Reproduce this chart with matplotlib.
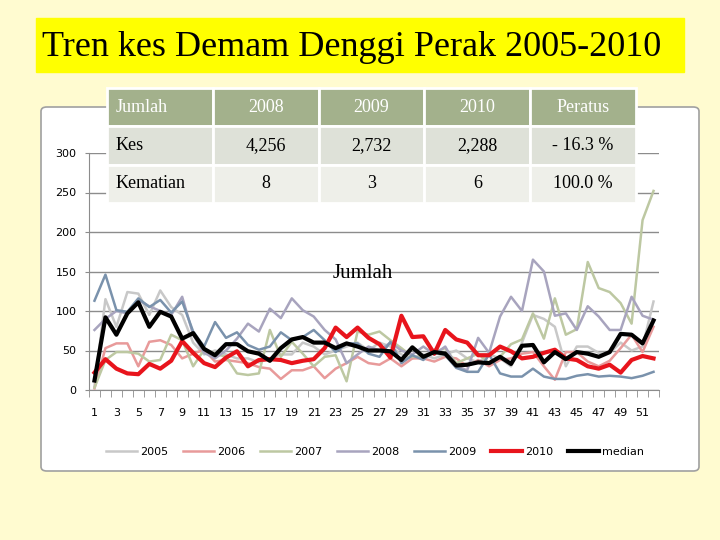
import matplotlib.pyplot as plt
from matplotlib.patches import Rectangle, FancyBboxPatch

weeks = list(range(1, 53))

y2005 = [5, 115, 80, 124, 122, 95, 126, 105, 95, 60, 45, 50, 45, 40, 40, 35, 40, 45,
         45, 60, 55, 45, 50, 55, 60, 50, 60, 55, 45, 40, 45, 40, 45, 50, 40, 35, 45,
         40, 30, 60, 95, 90, 80, 30, 55, 55, 47, 47, 60, 50, 55, 112]
y2006 = [2, 53, 59, 59, 30, 61, 63, 57, 40, 46, 51, 36, 38, 36, 34, 29, 27, 14,
         25, 25, 30, 15, 27, 34, 42, 34, 32, 40, 30, 40, 40, 36, 42, 40, 30, 38, 30,
         38, 40, 46, 48, 30, 13, 48, 48, 36, 30, 37, 53, 70, 48, 80]
y2007 = [3, 38, 48, 48, 46, 36, 38, 70, 63, 30, 51, 46, 42, 21, 19, 21, 76, 42,
         61, 46, 30, 42, 44, 11, 74, 70, 74, 63, 53, 42, 42, 48, 53, 34, 40, 46, 34,
         42, 58, 64, 97, 65, 116, 70, 77, 162, 129, 124, 110, 84, 215, 252]
y2008 = [76, 90, 100, 97, 114, 106, 100, 95, 118, 70, 47, 40, 50, 65, 84, 74, 103, 91,
         116, 101, 93, 76, 64, 34, 45, 55, 50, 60, 50, 45, 55, 45, 55, 30, 25, 66, 47,
         93, 118, 100, 165, 150, 94, 97, 76, 106, 93, 76, 76, 118, 94, 89]
y2009 = [113, 146, 101, 99, 116, 105, 114, 98, 112, 74, 55, 86, 66, 73, 57, 51, 55, 73,
         63, 67, 76, 63, 48, 59, 59, 46, 42, 61, 34, 44, 38, 51, 44, 28, 23, 23, 45,
         21, 17, 17, 27, 17, 14, 14, 18, 20, 17, 18, 17, 15, 18, 23]
y2010 = [22, 39, 27, 21, 20, 33, 27, 37, 62, 47, 34, 29, 41, 49, 30, 38, 39, 38,
         34, 37, 39, 53, 79, 67, 79, 66, 58, 41, 94, 67, 68, 46, 76, 64, 60, 44, 44,
         55, 49, 40, 42, 47, 51, 40, 38, 30, 27, 32, 22, 38, 43, 40]
median = [12, 92, 70, 97, 111, 80, 99, 93, 65, 72, 52, 44, 58, 58, 49, 46, 37, 53,
          64, 67, 60, 60, 53, 59, 55, 50, 50, 49, 38, 54, 42, 48, 46, 31, 32, 35, 34,
          42, 33, 56, 57, 35, 48, 39, 48, 46, 42, 48, 71, 70, 59, 88]

series = [('2005', y2005), ('2006', y2006), ('2007', y2007), ('2008', y2008),
          ('2009', y2009), ('2010', y2010), ('median', median)]
colors = ['#C8C8C8', '#E89A9A', '#BDC8A2', '#A8A4BE', '#7A92AC', '#E8141C', '#000000']
widths = [1.8, 1.8, 1.8, 1.8, 1.8, 3.0, 3.0]

table_header = ['Jumlah', '2008', '2009', '2010', 'Peratus']
table_rows = [['Kes', '4,256', '2,732', '2,288', '- 16.3 %'],
              ['Kematian', '8', '3', '6', '100.0 %']]

W, H = 720, 540
fig = plt.figure(figsize=(7.2, 5.4), dpi=100)
fig.patch.set_facecolor('#FFFBD0')

# title band
fig.patches.append(Rectangle((36 / W, 1 - 72 / H), 648 / W, 54 / H,
                             transform=fig.transFigure, color='#FFFF00', zorder=-2))
fig.text(42 / W, 1 - 47 / H, 'Tren kes Demam Denggi Perak 2005-2010',
         family='Liberation Serif', fontsize=26, va='center', ha='left')

# white chart panel
fig.patches.append(FancyBboxPatch((41 / W, 1 - 471 / H), 658 / W, 364 / H,
                                  boxstyle='round,pad=0,rounding_size=0.008',
                                  transform=fig.transFigure, facecolor='white',
                                  edgecolor='#A0A0A0', linewidth=1.2, zorder=-2))

ax = fig.add_axes([89 / W, 1 - 390 / H, 570 / W, 237 / H])
ax.set_facecolor('none')
for (name, vals), c, lw in zip(series, colors, widths):
    ax.plot(weeks, vals, color=c, linewidth=lw, label=name)

ax.set_xlim(0.5, 52.5)
ax.set_ylim(0, 300)
ax.set_yticks(range(0, 301, 50))
ax.yaxis.grid(True, color='#8C8C8C', linewidth=1)
ax.set_axisbelow(True)
ax.set_xticks(range(1, 53, 2))
ax.set_xticks([i + 0.5 for i in range(0, 53)], minor=True)
ax.tick_params(axis='x', which='major', length=0, pad=13, labelsize=8)
ax.tick_params(axis='x', which='minor', length=5, color='#8C8C8C')
ax.tick_params(axis='y', length=3, color='#8C8C8C', labelsize=8, pad=6)
for s in ['top', 'right']:
    ax.spines[s].set_visible(False)
for s in ['left', 'bottom']:
    ax.spines[s].set_color('#8C8C8C')

ax.text(363 / W, 1 - 273 / H, 'Jumlah', transform=fig.transFigure,
        family='Liberation Serif', fontsize=15, ha='center', va='center')

fig.legend(loc='center', bbox_to_anchor=(375 / W, 1 - 452 / H), ncol=7,
           frameon=False, fontsize=8, handlelength=2.8, columnspacing=1.3,
           handletextpad=0.3)

# summary table on top of the chart
tax = fig.add_axes([107 / W, 1 - 203 / H, 529 / W, 115 / H])
tax.axis('off')
tbl = tax.table(cellText=table_rows, colLabels=table_header, bbox=[0, 0, 1, 1])
tbl.auto_set_font_size(False)
for (r, c), cell in tbl.get_celld().items():
    cell.set_edgecolor('white')
    cell.set_linewidth(2)
    cell.get_text().set_family('Liberation Serif')
    cell.get_text().set_fontsize(13)
    if r == 0:
        cell.set_facecolor('#A3B18C')
        cell.get_text().set_color('white')
    elif r == 1:
        cell.set_facecolor('#DEE1D8')
    else:
        cell.set_facecolor('#EEEFE9')
    if c == 0:
        cell.get_text().set_ha('left')
        cell.PAD = 0.08
    else:
        cell.get_text().set_ha('center')

fig.savefig('out.png', dpi=100, facecolor=fig.get_facecolor())
